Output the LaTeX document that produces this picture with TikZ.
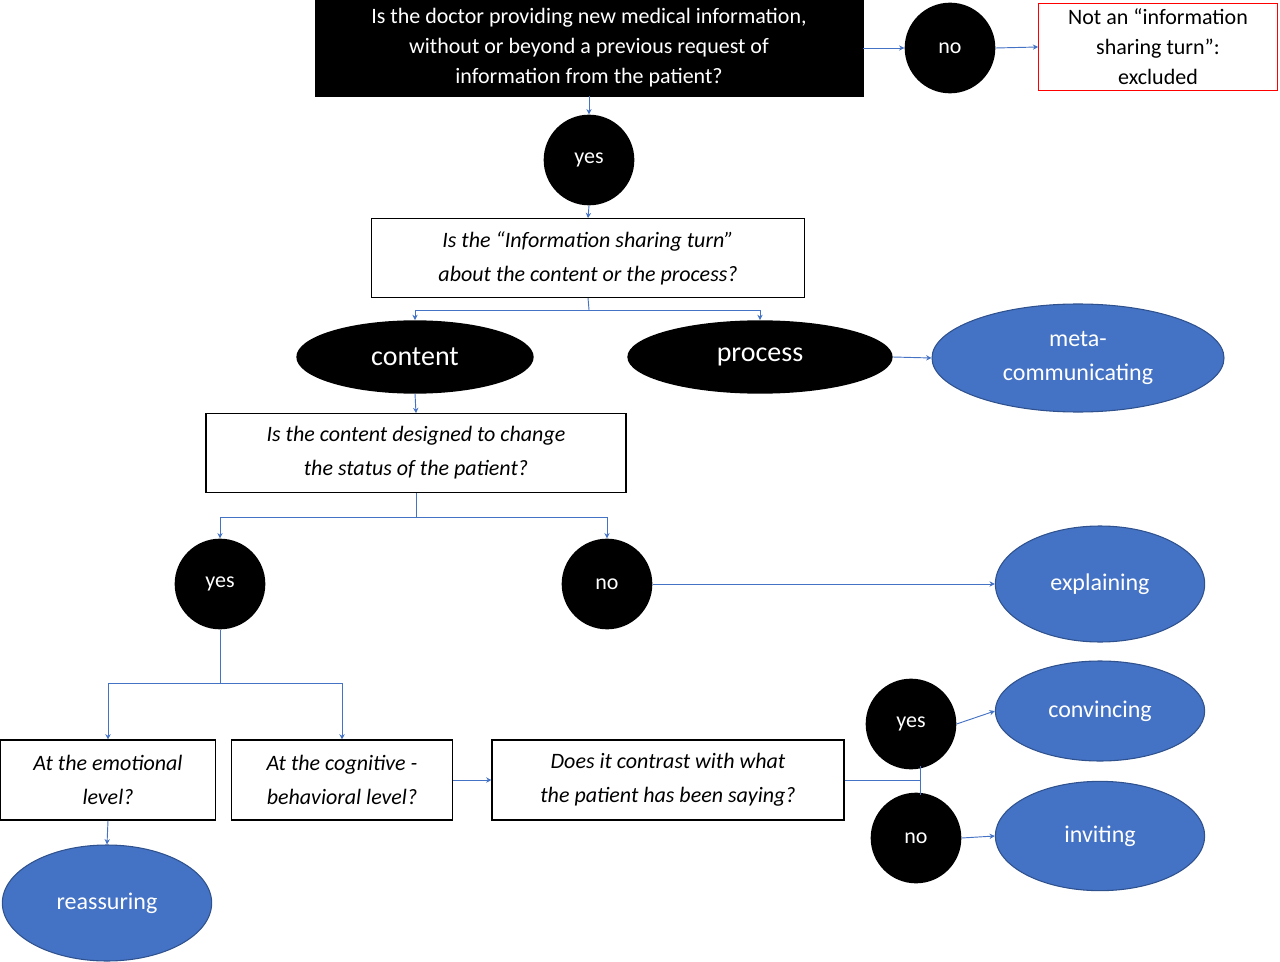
\documentclass[tikz,border=0pt]{standalone}
\usepackage{fontspec}
\setmainfont{Carlito}
\usetikzlibrary{shapes.geometric,arrows.meta}
\definecolor{bl}{HTML}{4472C4}
\definecolor{bld}{HTML}{2F528F}
\begin{document}
\begin{tikzpicture}[x=0.75pt,y=-0.75pt,
  txt/.style={font=\fontsize{16.5}{22.5}\selectfont,align=center,inner sep=0},
  bbox/.style={txt,draw=black,fill=black,text=white},
  wbox/.style={txt,draw=black,line width=0.8pt,font=\fontsize{16.5}{25.5}\selectfont\itshape},
  circ/.style={txt,circle,fill=black,text=white,minimum size=68pt},
  bell/.style={txt,ellipse,fill=black,text=white,font=\fontsize{21}{25}\selectfont},
  blue/.style={txt,ellipse,fill=bl,draw=bld,line width=0.8pt,text=white,font=\fontsize{18}{25}\selectfont},
  con/.style={bl,line width=0.7pt,-{Stealth[length=4pt,width=4pt]}},
  ln/.style={bl,line width=0.7pt}]
\useasboundingbox (0,0) rectangle (1280,962);
\node[bbox,minimum width=411pt,minimum height=72pt] (q1) at (589,48) {Is the doctor providing new medical information,\\without or beyond a previous request of\\information from the patient?};
\node[circ] (no1) at (950,48) {no};
\node[txt,draw=red,line width=0.8pt,minimum width=179pt,minimum height=65pt] (ex) at (1158,47) {Not an “information\\sharing turn”:\\excluded};
\node[circ] (yes1) at (589,160) {yes};
\node[wbox,minimum width=325pt,minimum height=59pt] (q2) at (588,258) {Is the “Information sharing turn”\\about the content or the process?};
\node[bell,minimum width=178pt,minimum height=55pt] (cont) at (415,357) {content};
\node[bell,minimum width=199pt,minimum height=55pt] (proc) at (760,357) {process};
\node[blue,minimum width=219pt,minimum height=81pt] (meta) at (1078,358) {meta-\\communicating};
\node[wbox,minimum width=315pt,minimum height=59pt] (q3) at (416,453) {Is the content designed to change\\the status of the patient?};
\node[circ] (yes2) at (220,584) {yes};
\node[circ] (no2) at (607,584) {no};
\node[blue,minimum width=157pt,minimum height=87pt] (expl) at (1100,584) {explaining};
\node[wbox,minimum width=161pt,minimum height=60pt] (q4) at (108,780) {At the emotional\\level?};
\node[wbox,minimum width=166pt,minimum height=60pt] (q5) at (342,780) {At the cognitive -\\behavioral level?};
\node[wbox,minimum width=264pt,minimum height=60pt] (q6) at (668,780) {Does it contrast with what\\the patient has been saying?};
\node[circ] (yes3) at (911,724) {yes};
\node[circ] (no3) at (916,838) {no};
\node[blue,minimum width=157pt,minimum height=75pt] (conv) at (1100,711) {convincing};
\node[blue,minimum width=157pt,minimum height=82pt] (inv) at (1100,836) {inviting};
\node[blue,minimum width=157pt,minimum height=87pt] (reas) at (107,903) {reassuring};
\draw[con] (q1.east) -- (no1.west);
\draw[con] (no1.east) -- (ex.west);
\draw[con] (q1.south) -- (yes1.north);
\draw[con] (yes1.south) -- (q2.north);
\coordinate (j1) at (589,310);
\draw[ln] (q2.south) -- (j1);
\draw[con] (j1) -| (cont.north);
\draw[con] (j1) -| (proc.north);
\draw[con] (proc.east) -- (meta.west);
\draw[con] (cont.south) -- (q3.north);
\coordinate (j2) at (416,517);
\draw[ln] (q3.south) -- (j2);
\draw[con] (j2) -| (yes2.north);
\draw[con] (j2) -| (no2.north);
\draw[con] (no2.east) -- (expl.west);
\coordinate (j3) at (220,683);
\draw[ln] (yes2.south) -- (j3);
\draw[con] (j3) -| (q4.north);
\draw[con] (j3) -| (q5.north);
\draw[con] (q4.south) -- (reas.north);
\draw[con] (q5.east) -- (q6.west);
\coordinate (j4) at (920,780);
\draw[ln] (q6.east) -- (j4);
\draw[ln] (920,766) -- (920,795);
\draw[con] (yes3.east) -- (conv.west);
\draw[con] (no3.east) -- (inv.west);
\end{tikzpicture}
\end{document}
